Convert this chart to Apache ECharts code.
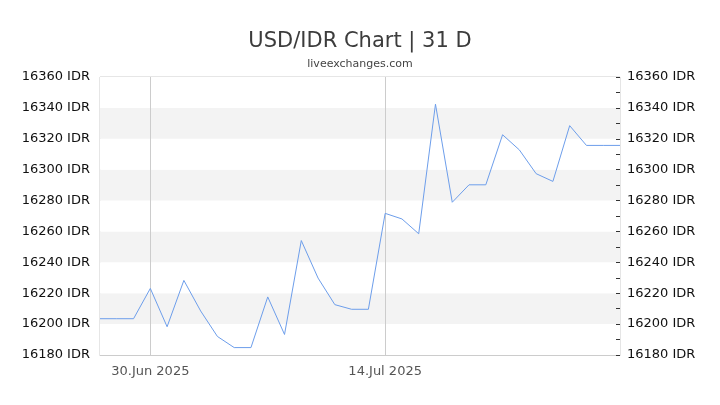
<!DOCTYPE html>
<html>
<head>
<meta charset="utf-8">
<script src="https://cdn.jsdelivr.net/npm/echarts@6/dist/echarts.min.js"></script>
<style>
html,body{margin:0;padding:0;background:#fff;}
#chart{width:720px;height:405px;}
</style>
</head>
<body>
<div id="chart"></div>
<script>
const dates = [
  "27.Jun 2025","28.Jun 2025","29.Jun 2025","30.Jun 2025","1.Jul 2025","2.Jul 2025","3.Jul 2025","4.Jul 2025",
  "5.Jul 2025","6.Jul 2025","7.Jul 2025","8.Jul 2025","9.Jul 2025","10.Jul 2025","11.Jul 2025","12.Jul 2025",
  "13.Jul 2025","14.Jul 2025","15.Jul 2025","16.Jul 2025","17.Jul 2025","18.Jul 2025","19.Jul 2025","20.Jul 2025",
  "21.Jul 2025","22.Jul 2025","23.Jul 2025","24.Jul 2025","25.Jul 2025","26.Jul 2025","27.Jul 2025","28.Jul 2025"
];
const rates = [
  16203.5,16203.5,16203.5,16223.1,16198.3,16228.3,16208.5,16192.0,
  16184.8,16184.8,16217.6,16193.3,16254.1,16229.8,16212.6,16209.6,
  16209.6,16271.7,16268.1,16258.5,16342.4,16278.9,16290.2,16290.2,
  16322.6,16312.8,16297.4,16292.4,16328.5,16315.7,16315.7,16315.7
];
const labeledDates = ["30.Jun 2025","14.Jul 2025"];
const titleText = "USD/IDR Chart | 31 D";
const subtitleText = "liveexchanges.com";
const yMin = 16180, yMax = 16360, yStep = 20;

const font = "DejaVu Sans";
const chart = echarts.init(document.getElementById('chart'), null, {renderer:'canvas'});
const showLabel = (i, v) => labeledDates.indexOf(v) >= 0;
chart.setOption({
  animation:false,
  backgroundColor:'#fff',
  title:{
    text:titleText, subtext:subtitleText, left:'center', top:26, itemGap:7,
    textStyle:{fontFamily:font,fontSize:21,fontWeight:'normal',color:'#3c3c3c'},
    subtextStyle:{fontFamily:font,fontSize:11,color:'#444'}
  },
  grid:{left:100,right:100,top:77,bottom:50,show:true,borderColor:'#ccc',borderWidth:1,backgroundColor:'transparent'},
  xAxis:{
    type:'category', data:dates, boundaryGap:false,
    axisLine:{show:true,lineStyle:{color:'#ccc'}},
    axisTick:{show:false},
    axisLabel:{interval:showLabel,fontFamily:font,fontSize:13,color:'#555',margin:10},
    splitLine:{show:true,interval:showLabel,lineStyle:{color:'#ccc',width:1}}
  },
  yAxis:[{
    type:'value', min:yMin, max:yMax, interval:yStep, position:'left',
    axisLine:{show:false}, axisTick:{show:false},
    axisLabel:{fontFamily:font,fontSize:13,color:'#111',margin:10,formatter:v=>v+' IDR'},
    splitLine:{show:false},
    splitArea:{show:true,areaStyle:{color:['#ffffff','#f3f3f3']}}
  },{
    type:'value', min:yMin, max:yMax, interval:yStep, position:'right',
    axisLine:{show:false},
    axisTick:{show:true,inside:true,length:4,lineStyle:{color:'#333'}},
    minorTick:{show:true,splitNumber:2,length:4,lineStyle:{color:'#333'}},
    axisLabel:{fontFamily:font,fontSize:13,color:'#111',margin:7,formatter:v=>v+' IDR'},
    splitLine:{show:false}
  }],
  series:[{
    type:'line', data:rates, yAxisIndex:0, showSymbol:false, symbol:'none',
    lineStyle:{color:'#6d9eeb',width:1}
  }]
});
</script>
</body>
</html>
